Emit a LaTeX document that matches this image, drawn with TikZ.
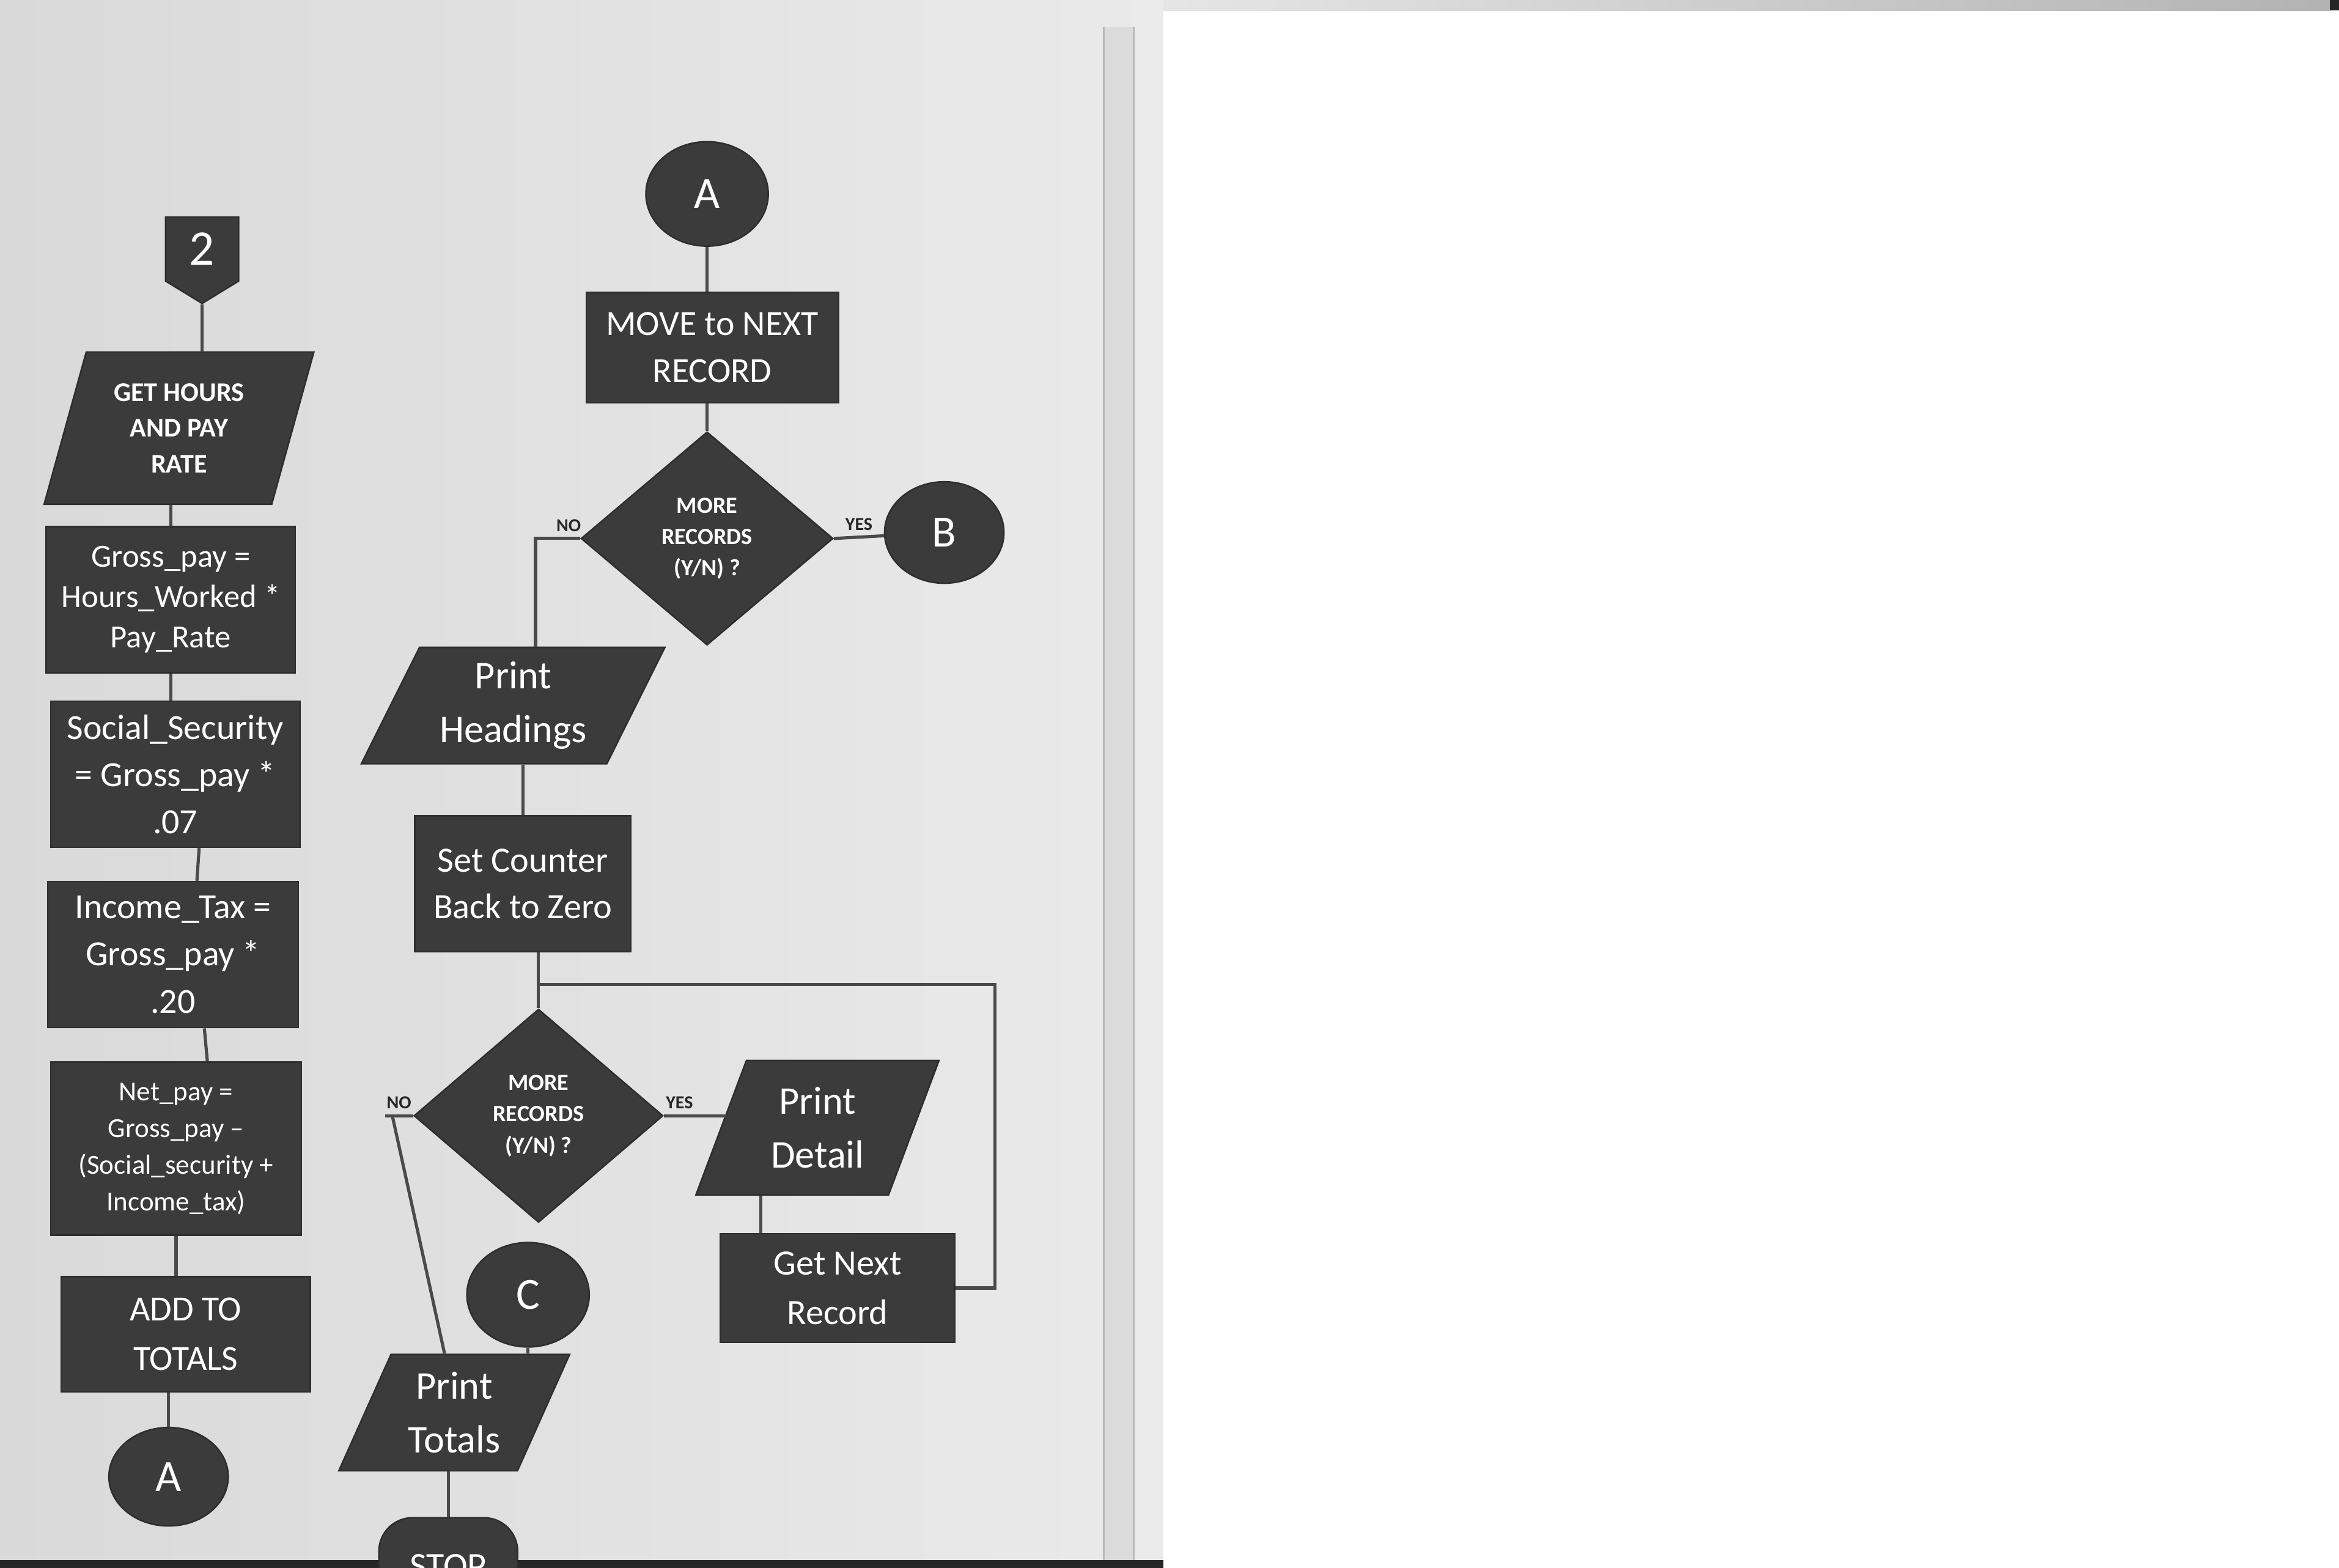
\documentclass[tikz,border=0pt]{standalone}
\usepackage{fontspec}
\setmainfont{Carlito}
\usetikzlibrary{shapes.geometric, shapes.symbols}
\definecolor{boxfill}{HTML}{3B3B3B}
\definecolor{boxedge}{HTML}{2E2E2E}
\definecolor{linegray}{HTML}{4A4A4A}
\definecolor{photoleft}{HTML}{D9D9D9}
\definecolor{photoright}{HTML}{EAEAEA}
\tikzset{
  procbox/.style={rectangle, draw=boxedge, line width=0.6pt, fill=boxfill, text=white, align=center, inner sep=1pt},
  iobox/.style={trapezium, trapezium stretches=true, draw=boxedge, line width=0.6pt, fill=boxfill, text=white, align=center, inner sep=1pt},
  decbox/.style={diamond, draw=boxedge, line width=0.6pt, fill=boxfill, text=white, align=center, inner sep=1pt, font=\fontsize{8.9}{12}\selectfont\bfseries},
  connect/.style={ellipse, draw=boxedge, line width=0.6pt, fill=boxfill, text=white, inner sep=0pt, font=\fontsize{17}{20}\selectfont},
  offpage/.style={signal, signal to=south, signal pointer angle=117, draw=boxedge, line width=0.6pt, fill=boxfill, text=white, inner sep=0pt},
  termbox/.style={rectangle, rounded corners=0.45cm, draw=boxedge, line width=0.6pt, fill=boxfill, text=white, inner sep=1pt, font=\fontsize{14}{16}\selectfont},
  flow/.style={draw=linegray, line width=1.2pt},
  answer/.style={font=\fontsize{7}{8}\selectfont\bfseries, text=black!85, inner sep=2pt}
}
\begin{document}
\begin{tikzpicture}[x=0.02cm, y=-0.02cm]
  % page and photo background
  \useasboundingbox (0,0) rectangle (1568,1051);
  \clip (0,0) rectangle (1568,1051);
  \shade[left color=photoleft, right color=photoright] (0,0) rectangle (780,1051);
  \fill[white] (780,7) rectangle (1568,1051);
  \shade[left color=gray!20, right color=gray!60] (780,0) rectangle (1562,7);
  \fill[black!85] (1562,0) rectangle (1568,7);
  \fill[gray!28] (740,18) rectangle (760,1051);
  \draw[gray!55, line width=0.6pt] (740,18) -- (740,1051) (760,18) -- (760,1051);
  \fill[black!85] (0,1046) rectangle (780,1051);

  % left column
  \node[offpage, minimum width=0.98cm, minimum height=0.96cm, font=\fontsize{19}{20}\selectfont] (two) at (135.5,167) {2};
  \node[iobox, trapezium left angle=72, trapezium right angle=108, minimum width=3.64cm, minimum height=2.04cm, font=\fontsize{10.3}{13.7}\selectfont\bfseries] (gethours) at (120,287) {GET HOURS\\AND PAY\\RATE};
  \node[procbox, minimum width=3.34cm, minimum height=1.96cm, font=\fontsize{12.3}{15.4}\selectfont] (grosspay) at (114.5,402) {Gross\_pay =\\Hours\_Worked *\\Pay\_Rate};
  \node[procbox, minimum width=3.34cm, minimum height=1.96cm, font=\fontsize{13.5}{18}\selectfont] (socsec) at (117.5,519) {Social\_Security\\= Gross\_pay *\\.07};
  \node[procbox, minimum width=3.36cm, minimum height=1.96cm, font=\fontsize{13.5}{18}\selectfont] (inctax) at (116,640) {Income\_Tax =\\Gross\_pay *\\.20};
  \node[procbox, minimum width=3.36cm, minimum height=2.32cm, font=\fontsize{10.5}{14}\selectfont] (netpay) at (118,770) {Net\_pay =\\Gross\_pay --\\(Social\_security +\\Income\_tax)};
  \node[procbox, minimum width=3.34cm, minimum height=1.54cm, font=\fontsize{13.5}{19}\selectfont] (addtot) at (124.5,894.5) {ADD TO\\TOTALS};
  \node[connect, minimum width=1.6cm, minimum height=1.32cm] (endA) at (113,990) {A};

  % main loop column
  \node[connect, minimum width=1.64cm, minimum height=1.4cm] (startA) at (474,130) {A};
  \node[procbox, minimum width=3.38cm, minimum height=1.48cm, font=\fontsize{13.5}{18}\selectfont] (moverec) at (477.5,233) {MOVE to NEXT\\RECORD};
  \node[decbox, minimum width=3.38cm, minimum height=2.86cm] (more1) at (474,361) {MORE\\RECORDS\\(Y/N) ?};
  \node[connect, minimum width=1.6cm, minimum height=1.36cm] (exitB) at (633,357) {B};
  \node[iobox, trapezium left angle=63, trapezium right angle=117, minimum width=4.08cm, minimum height=1.56cm, font=\fontsize{15}{20.5}\selectfont] (prhead) at (344,473) {Print\\Headings};
  \node[procbox, minimum width=2.9cm, minimum height=1.82cm, font=\fontsize{13.6}{17.7}\selectfont] (setcnt) at (350.5,592.5) {Set Counter\\Back to Zero};
  \node[decbox, minimum width=3.34cm, minimum height=2.86cm] (more2) at (361,748) {MORE\\RECORDS\\(Y/N) ?};
  \node[iobox, trapezium left angle=68, trapezium right angle=112, minimum width=3.28cm, minimum height=1.8cm, font=\fontsize{15}{20.5}\selectfont] (prdet) at (548,756) {Print\\Detail};
  \node[procbox, minimum width=3.14cm, minimum height=1.46cm, font=\fontsize{13.6}{19}\selectfont] (getnext) at (561.5,863.5) {Get Next\\Record};
  \node[connect, minimum width=1.64cm, minimum height=1.4cm] (conC) at (354,868) {C};
  \node[iobox, trapezium left angle=65, trapezium right angle=115, minimum width=3.1cm, minimum height=1.56cm, font=\fontsize{15}{20.5}\selectfont] (prtot) at (304.5,947) {Print\\Totals};
  \node[termbox, minimum width=1.86cm, minimum height=1.3cm] (stop) at (300.5,1050) {STOP};

  % connectors, left column
  \draw[flow] (two.south) -- (two.south |- gethours.north);
  \draw[flow] (grosspay.north |- gethours.south) -- (grosspay.north);
  \draw[flow] (grosspay.south) -- (grosspay.south |- socsec.north);
  \draw[flow] ([xshift=0.32cm]socsec.south) -- ([xshift=0.32cm]inctax.north);
  \draw[flow] ([xshift=0.42cm]inctax.south) -- ([xshift=0.42cm]netpay.north);
  \draw[flow] (netpay.south) -- (netpay.south |- addtot.north);
  \draw[flow] (addtot.south -| endA.north) -- (endA.north);

  % connectors, main loop
  \draw[flow] (startA.south) -- (startA.south |- moverec.north);
  \draw[flow] (moverec.south -| more1.north) -- (more1.north);
  \draw[flow] (more1.east) -- (exitB) node[answer, midway, above] {YES};
  \coordinate (headin) at ([xshift=0.3cm]prhead.north);
  \draw[flow] (more1.west) -| (headin) node[answer, above, pos=0.13] {NO};
  \draw[flow] (prhead.south -| setcnt.north) -- (setcnt.north);
  \draw[flow] (setcnt.south -| more2.north) -- (more2.north);
  \coordinate (loopturn) at (667,660);
  \draw[flow] (getnext.east) -| (loopturn) -- (loopturn -| more2.north);
  \coordinate (nobend) at (258,748);
  \draw[flow] (more2.west) -- (nobend) node[answer, midway, above] {NO};
  \coordinate (noslant) at (263,748);
  \draw[flow] (noslant) -- ([xshift=-0.13cm]prtot.north);
  \coordinate (detin) at (more2.east -| prdet.west);
  \draw[flow] (more2.east) -- ([xshift=0.08cm]detin) node[answer, pos=0.25, above] {YES};
  \coordinate (detout) at ([xshift=-0.76cm]prdet.south);
  \draw[flow] (detout) -- (detout |- getnext.north);
  \draw[flow] (conC.south) -- (conC.south |- prtot.north);
  \draw[flow] (prtot.south -| stop.north) -- (stop.north);
\end{tikzpicture}
\end{document}
